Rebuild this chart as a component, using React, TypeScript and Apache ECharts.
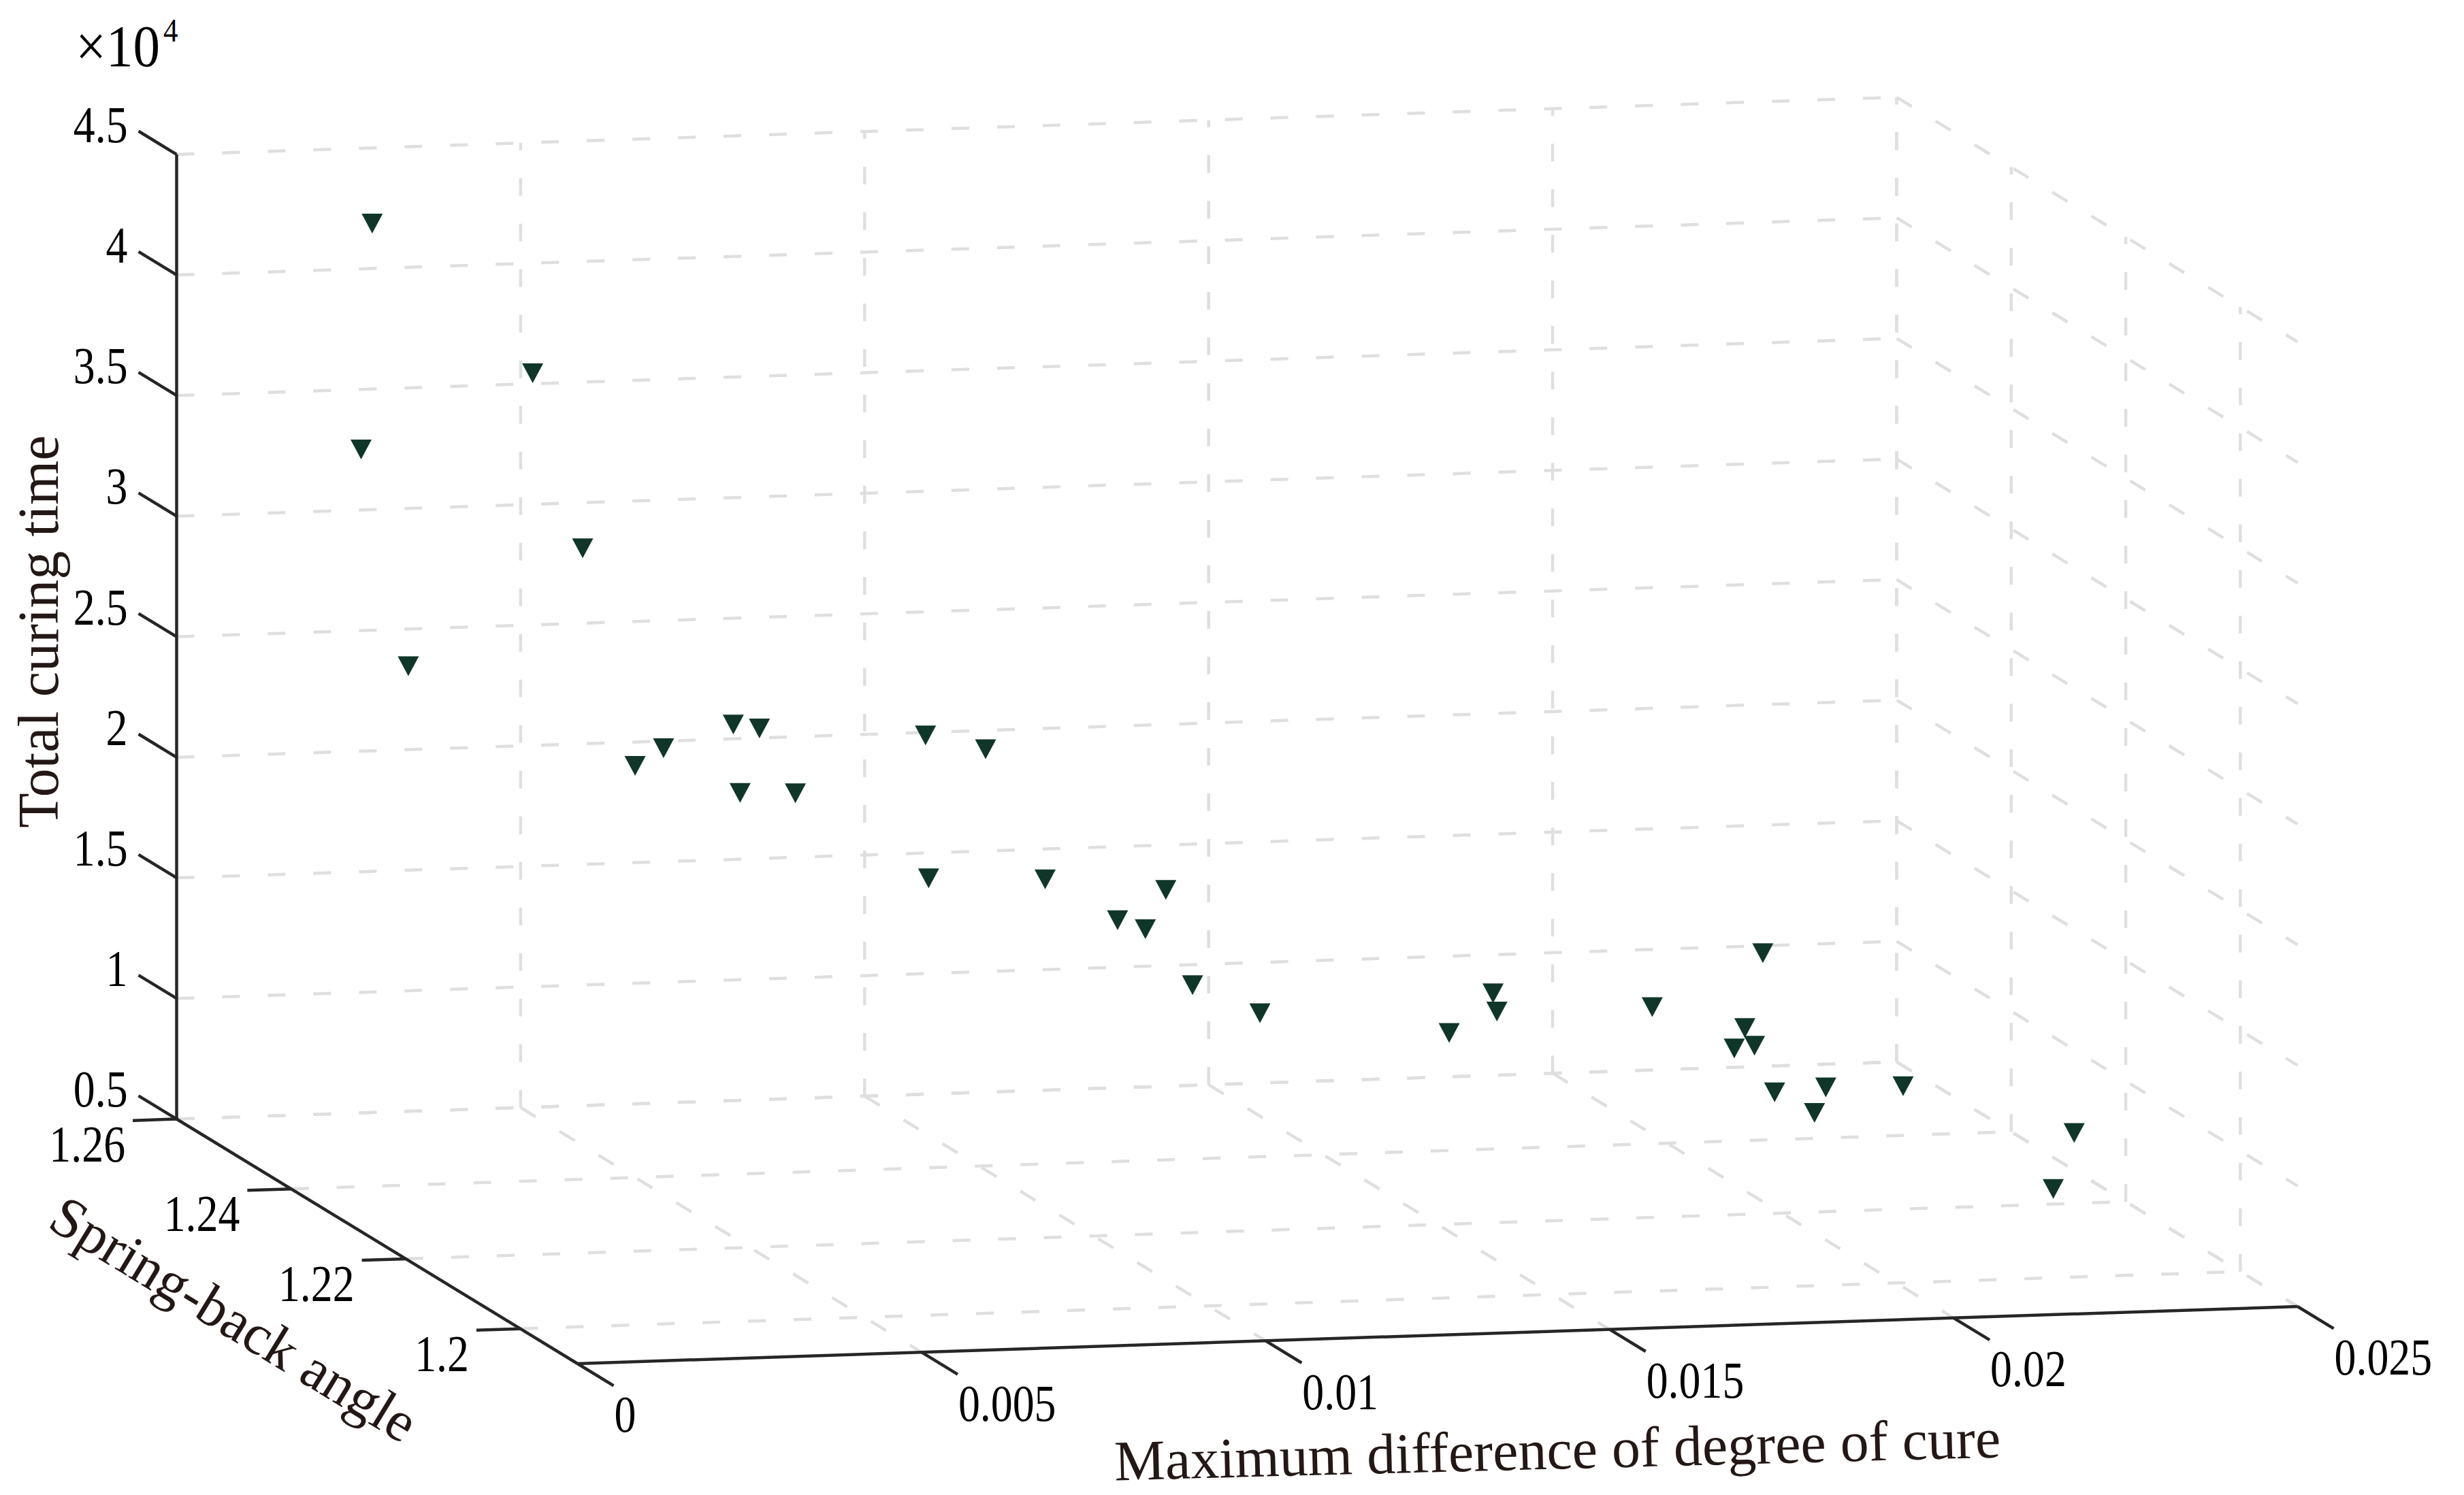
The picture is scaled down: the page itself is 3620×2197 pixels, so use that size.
import React, { useEffect, useRef } from "react";
import * as echarts from "echarts";

// ---- data (spring-back depth estimated) ----
const cureDiff = [
  0.00201, 0.00351, 0.0006, 0.00407, 0.00087, 0.00601, 0.00614, 0.00458, 0.00375, 0.00486,
  0.00583, 0.00922, 0.00976, 0.0076, 0.00971, 0.01188, 0.01018, 0.01075, 0.01102, 0.01175,
  0.01475, 0.01622, 0.01586, 0.01895, 0.02139, 0.01988, 0.01931, 0.01977, 0.01948, 0.02064,
  0.01981, 0.02218, 0.02425, 0.02353,
];
const springBack = [
  1.25, 1.24, 1.235, 1.238, 1.23, 1.235, 1.232, 1.23, 1.225, 1.22,
  1.222, 1.24, 1.236, 1.22, 1.225, 1.23, 1.218, 1.22, 1.215, 1.212,
  1.215, 1.225, 1.22, 1.23, 1.24, 1.225, 1.22, 1.222, 1.215, 1.22,
  1.212, 1.225, 1.22, 1.215,
];
const curingTime = [
  43390, 38490, 36330, 31470, 28040, 24410, 24670, 24290, 24360, 23860,
  23460, 22930, 22890, 20060, 19090, 17720, 18370, 17650, 16030, 15230,
  13690, 13750, 13750, 12190, 12750, 11960, 11890, 11670, 10780, 10150,
  10330, 9330, 7920, 6390,
];

const xTicks = [0, 0.005, 0.01, 0.015, 0.02, 0.025];
const xTickLabels = ["0", "0.005", "0.01", "0.015", "0.02", "0.025"];
const yTicks = [1.2, 1.22, 1.24, 1.26];
const yTickLabels = ["1.2", "1.22", "1.24", "1.26"];
const zTicks = [5000, 10000, 15000, 20000, 25000, 30000, 35000, 40000, 45000];
const zTickLabels = ["0.5", "1", "1.5", "2", "2.5", "3", "3.5", "4", "4.5"];

const X_MIN = 0, X_MAX = 0.025;
const Y_MIN = 1.19, Y_MAX = 1.26;
const Z_MIN = 5000, Z_MAX = 45000;

// ---- 3-D orthographic projection (screen layout of the axes box) ----
const P0 = [259.5, 1644.5]; // screen of (X_MIN, Y_MAX, Z_MIN)
const VX = [2527, -84]; // full x range
const VY = [589, 359.5]; // from Y_MAX to Y_MIN
const VZ = [0, -1417.6]; // full z range

function project(x: number, y: number, z: number): [number, number] {
  const u = (x - X_MIN) / (X_MAX - X_MIN);
  const v = (Y_MAX - y) / (Y_MAX - Y_MIN);
  const w = (z - Z_MIN) / (Z_MAX - Z_MIN);
  return [
    P0[0] + u * VX[0] + v * VY[0] + w * VZ[0],
    P0[1] + u * VX[1] + v * VY[1] + w * VZ[1],
  ];
}

const FONT = '"Liberation Serif", "Times New Roman", serif';
const GRID_COLOR = "#dfdfdf";
const AXIS_COLOR = "#262626";
const MARK_COLOR = "#10362a";

function buildSegments() {
  const segs: number[][] = [];
  // back wall (y = Y_MAX)
  zTicks.forEach((z) => segs.push([X_MIN, Y_MAX, z, X_MAX, Y_MAX, z, 0]));
  xTicks.filter((x) => x > X_MIN).forEach((x) => segs.push([x, Y_MAX, Z_MIN, x, Y_MAX, Z_MAX, 0]));
  // right wall (x = X_MAX)
  zTicks.forEach((z) => segs.push([X_MAX, Y_MAX, z, X_MAX, Y_MIN, z, 0]));
  yTicks.forEach((y) => segs.push([X_MAX, y, Z_MIN, X_MAX, y, Z_MAX, 0]));
  // floor (z = Z_MIN)
  yTicks.forEach((y) => segs.push([X_MIN, y, Z_MIN, X_MAX, y, Z_MIN, 0]));
  xTicks.filter((x) => x > X_MIN).forEach((x) => segs.push([x, Y_MAX, Z_MIN, x, Y_MIN, Z_MIN, 0]));
  // axes
  segs.push([X_MIN, Y_MAX, Z_MIN, X_MIN, Y_MAX, Z_MAX, 1]);
  segs.push([X_MIN, Y_MAX, Z_MIN, X_MIN, Y_MIN, Z_MIN, 1]);
  segs.push([X_MIN, Y_MIN, Z_MIN, X_MAX, Y_MIN, Z_MIN, 1]);
  // ticks
  const yr = Y_MAX - Y_MIN, xr = X_MAX - X_MIN;
  zTicks.forEach((z) => segs.push([X_MIN, Y_MAX, z, X_MIN, Y_MAX + 0.095 * yr, z, 1]));
  yTicks.forEach((y) => segs.push([X_MIN, y, Z_MIN, X_MIN - 0.0255 * xr, y, Z_MIN, 1]));
  xTicks.forEach((x) => segs.push([x, Y_MIN, Z_MIN, x, Y_MIN - 0.09 * yr, Z_MIN, 1]));
  return segs;
}

function buildTexts() {
  const els: any[] = [];
  const yr = Y_MAX - Y_MIN, xr = X_MAX - X_MIN;
  const tickFont = 76;
  const squeeze = 0.84;
  const txt = (x: number, y: number, text: string, size: number, align: string, opts: any = {}) => ({
    type: "text",
    x,
    y,
    rotation: opts.rotation || 0,
    scaleX: opts.scaleX || 1,
    silent: true,
    style: {
      text,
      fontSize: size,
      fontFamily: FONT,
      fill: opts.fill || "#000",
      align,
      textAlign: align,
      verticalAlign: "middle",
      textVerticalAlign: "middle",
    },
  });
  zTicks.forEach((z, i) => {
    const e = project(X_MIN, Y_MAX + 0.095 * yr, z);
    els.push(txt(e[0] - 16, e[1] - 10, zTickLabels[i], tickFont, "right", { scaleX: squeeze }));
  });
  yTicks.forEach((y, i) => {
    const e = project(X_MIN - 0.0255 * xr, y, Z_MIN);
    els.push(txt(e[0] - 11, e[1] + 34, yTickLabels[i], tickFont, "right", { scaleX: squeeze }));
  });
  xTicks.forEach((x, i) => {
    const e = project(x, Y_MIN - 0.09 * yr, Z_MIN);
    els.push(txt(e[0] + 1, e[1] + 42, xTickLabels[i], tickFont, "left", { scaleX: squeeze }));
  });
  // exponent
  els.push(txt(235, 68, "\u00d710", 86, "right", { scaleX: 0.92 }));
  els.push(txt(240, 45, "4", 48, "left", { scaleX: 0.9 }));
  // axis titles
  const tc = "#231815";
  els.push(txt(56, 928, "Total curing time", 84, "center", { rotation: Math.PI / 2, fill: tc }));
  els.push(txt(344, 1938, "Spring-back angle", 84, "center", { rotation: -Math.atan2(VY[1], VY[0]), fill: tc }));
  els.push(txt(2288, 2130, "Maximum difference of degree of cure", 84, "center", { rotation: 0.026, fill: tc }));
  return els;
}

export default function App() {
  const ref = useRef<HTMLDivElement>(null);
  useEffect(() => {
    if (!ref.current) return;
    const chart = echarts.init(ref.current, undefined, { renderer: "svg" });
    const points = cureDiff.map((x, i) => [x, springBack[i], curingTime[i]]);
    const option: any = {
      animation: false,
      backgroundColor: "#ffffff",
      graphic: { elements: buildTexts() },
      series: [
        {
          type: "custom",
          coordinateSystem: "none",
          silent: true,
          data: buildSegments(),
          renderItem: (_p: any, api: any) => {
            const a = project(api.value(0), api.value(1), api.value(2));
            const b = project(api.value(3), api.value(4), api.value(5));
            const solid = api.value(6) === 1;
            return {
              type: "line",
              shape: { x1: a[0], y1: a[1], x2: b[0], y2: b[1] },
              style: solid
                ? { stroke: AXIS_COLOR, lineWidth: 4.5, fill: null }
                : { stroke: GRID_COLOR, lineWidth: 4.5, lineDash: [26, 41], fill: null },
            };
          },
          z: 1,
        },
        {
          type: "custom",
          coordinateSystem: "none",
          silent: true,
          data: points,
          renderItem: (_p: any, api: any) => {
            const c = project(api.value(0), api.value(1), api.value(2));
            const hw = 15.5, hh = 14.5;
            return {
              type: "polygon",
              shape: {
                points: [
                  [c[0] - hw, c[1] - hh],
                  [c[0] + hw, c[1] - hh],
                  [c[0], c[1] + hh],
                ],
              },
              style: { fill: MARK_COLOR, stroke: null },
            };
          },
          z: 3,
        },
      ],
    };
    chart.setOption(option);
    return () => chart.dispose();
  }, []);
  return (
    <div
      ref={ref}
      style={{ position: "fixed", left: 0, top: 0, width: 3620, height: 2197, background: "#fff" }}
    />
  );
}
